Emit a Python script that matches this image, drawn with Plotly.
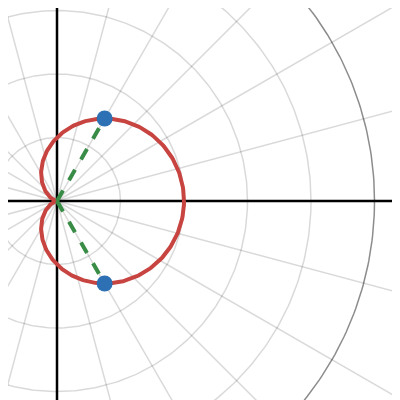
import numpy as np
import plotly.graph_objects as go

a = 1.0                       # cardioid r = a(1 + cos t)
point_angles_deg = [60, -60]  # marked points
grid_radii = [1, 2, 3, 4]
outer_radius = 5
spoke_step_deg = 15

fig = go.Figure()

# polar grid
t = np.linspace(0, 2 * np.pi, 400)
for r in grid_radii:
    fig.add_trace(go.Scatter(x=r * np.cos(t), y=r * np.sin(t), mode="lines",
                             line=dict(color="rgba(0,0,0,0.15)", width=1.5), hoverinfo="skip"))
fig.add_trace(go.Scatter(x=outer_radius * np.cos(t), y=outer_radius * np.sin(t), mode="lines",
                         line=dict(color="rgba(0,0,0,0.45)", width=1.5), hoverinfo="skip"))
for d in range(0, 360, spoke_step_deg):
    if d % 90 == 0:
        continue
    ang = np.radians(d)
    fig.add_trace(go.Scatter(x=[0, 8 * np.cos(ang)], y=[0, 8 * np.sin(ang)], mode="lines",
                             line=dict(color="rgba(0,0,0,0.15)", width=1.5), hoverinfo="skip"))

# axes
fig.add_trace(go.Scatter(x=[-2, 8], y=[0, 0], mode="lines", line=dict(color="black", width=2.5)))
fig.add_trace(go.Scatter(x=[0, 0], y=[-5, 5], mode="lines", line=dict(color="black", width=2.5)))

# cardioid
r = a * (1 + np.cos(t))
fig.add_trace(go.Scatter(x=r * np.cos(t), y=r * np.sin(t), mode="lines",
                         line=dict(color="#c74440", width=4)))

# segments and points
for d in point_angles_deg:
    ang = np.radians(d)
    rp = a * (1 + np.cos(ang))
    fig.add_trace(go.Scatter(x=[0, rp * np.cos(ang)], y=[0, rp * np.sin(ang)], mode="lines",
                             line=dict(color="#388c46", width=4, dash="dash")))
px = [a * (1 + np.cos(np.radians(d))) * np.cos(np.radians(d)) for d in point_angles_deg]
py = [a * (1 + np.cos(np.radians(d))) * np.sin(np.radians(d)) for d in point_angles_deg]
fig.add_trace(go.Scatter(x=px, y=py, mode="markers", marker=dict(color="#2d70b3", size=16)))

scale = 63.5
fig.update_layout(width=400, height=400, margin=dict(l=0, r=0, t=0, b=0),
                  plot_bgcolor="white", paper_bgcolor="white", showlegend=False,
                  xaxis=dict(range=[-49 / scale, 351 / scale], visible=False),
                  yaxis=dict(range=[-207 / scale, 193 / scale], visible=False))
fig.write_html("out.html")
